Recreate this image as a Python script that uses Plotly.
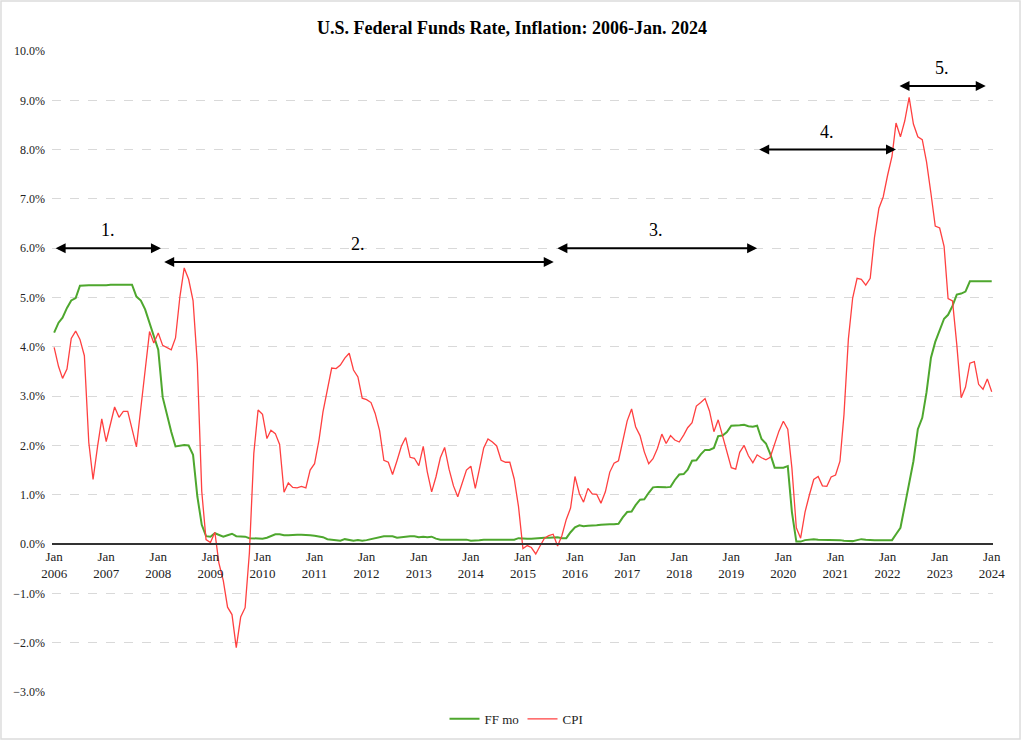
import pandas as pd
import plotly.graph_objects as go

# monthly, Jan 2006 - Jan 2024
months = pd.date_range("2006-01-01", "2024-01-01", freq="MS")

ff_rate = [
    4.29, 4.49, 4.59, 4.79, 4.94, 4.99, 5.24, 5.25, 5.25, 5.25, 5.25, 5.24,  # 2006
    5.25, 5.26, 5.26, 5.25, 5.25, 5.25, 5.26, 5.02, 4.94, 4.76, 4.49, 4.24,  # 2007
    3.94, 2.98, 2.61, 2.28, 1.98, 2.00, 2.01, 2.00, 1.81, 0.97, 0.39, 0.16,  # 2008
    0.15, 0.22, 0.18, 0.15, 0.18, 0.21, 0.16, 0.16, 0.15, 0.12, 0.12, 0.12,  # 2009
    0.11, 0.13, 0.16, 0.20, 0.20, 0.18, 0.18, 0.19, 0.19, 0.19, 0.19, 0.18,  # 2010
    0.17, 0.16, 0.14, 0.10, 0.09, 0.09, 0.07, 0.10, 0.08, 0.07, 0.08, 0.07,  # 2011
    0.08, 0.10, 0.13, 0.14, 0.16, 0.16, 0.16, 0.13, 0.14, 0.16, 0.16, 0.16,  # 2012
    0.14, 0.15, 0.14, 0.15, 0.11, 0.09, 0.09, 0.08, 0.08, 0.09, 0.08, 0.09,  # 2013
    0.07, 0.07, 0.08, 0.09, 0.09, 0.10, 0.09, 0.09, 0.09, 0.09, 0.09, 0.12,  # 2014
    0.11, 0.11, 0.11, 0.12, 0.12, 0.13, 0.13, 0.14, 0.14, 0.12, 0.12, 0.24,  # 2015
    0.34, 0.38, 0.36, 0.37, 0.37, 0.38, 0.39, 0.40, 0.40, 0.40, 0.41, 0.54,  # 2016
    0.65, 0.66, 0.79, 0.90, 0.91, 1.04, 1.15, 1.16, 1.15, 1.15, 1.16, 1.30,  # 2017
    1.41, 1.42, 1.51, 1.69, 1.70, 1.82, 1.91, 1.91, 1.95, 2.19, 2.20, 2.27,  # 2018
    2.40, 2.40, 2.41, 2.42, 2.39, 2.38, 2.40, 2.13, 2.04, 1.83, 1.55, 1.55,  # 2019
    1.55, 1.58, 0.65, 0.05, 0.05, 0.08, 0.09, 0.10, 0.09, 0.09, 0.09, 0.09,  # 2020
    0.09, 0.08, 0.07, 0.07, 0.06, 0.08, 0.10, 0.09, 0.08, 0.08, 0.08, 0.08,  # 2021
    0.08, 0.08, 0.20, 0.33, 0.77, 1.21, 1.68, 2.33, 2.56, 3.08, 3.78, 4.10,  # 2022
    4.33, 4.57, 4.65, 4.83, 5.06, 5.08, 5.12, 5.33, 5.33, 5.33, 5.33, 5.33,  # 2023
    5.33,  # Jan 2024
]

cpi = [
    3.99, 3.60, 3.36, 3.55, 4.17, 4.32, 4.15, 3.82, 2.06, 1.31, 1.97, 2.54,
    2.08, 2.42, 2.78, 2.57, 2.69, 2.69, 2.36, 1.97, 2.76, 3.54, 4.31, 4.08,
    4.28, 4.03, 3.98, 3.94, 4.18, 5.02, 5.60, 5.37, 4.94, 3.66, 1.07, 0.09,
    0.03, 0.24, -0.38, -0.74, -1.28, -1.43, -2.10, -1.48, -1.29, -0.18, 1.84, 2.72,
    2.63, 2.14, 2.31, 2.24, 2.02, 1.05, 1.24, 1.15, 1.14, 1.17, 1.14, 1.50,
    1.63, 2.11, 2.68, 3.16, 3.57, 3.56, 3.63, 3.77, 3.87, 3.53, 3.39, 2.96,
    2.93, 2.87, 2.65, 2.30, 1.70, 1.66, 1.41, 1.69, 1.99, 2.16, 1.76, 1.74,
    1.59, 1.98, 1.47, 1.06, 1.36, 1.75, 1.96, 1.52, 1.18, 0.96, 1.24, 1.50,
    1.58, 1.13, 1.51, 1.95, 2.13, 2.07, 1.99, 1.70, 1.66, 1.66, 1.32, 0.76,
    -0.09, -0.03, -0.07, -0.20, -0.04, 0.12, 0.17, 0.20, -0.04, 0.17, 0.50, 0.73,
    1.37, 1.02, 0.85, 1.13, 1.02, 1.01, 0.83, 1.06, 1.46, 1.64, 1.69, 2.07,
    2.50, 2.74, 2.38, 2.20, 1.87, 1.63, 1.73, 1.94, 2.23, 2.04, 2.20, 2.11,
    2.07, 2.21, 2.36, 2.46, 2.80, 2.87, 2.95, 2.70, 2.28, 2.52, 2.18, 1.91,
    1.55, 1.52, 1.86, 2.00, 1.79, 1.65, 1.81, 1.75, 1.71, 1.76, 2.05, 2.29,
    2.49, 2.33, 1.54, 0.33, 0.12, 0.65, 0.99, 1.31, 1.37, 1.18, 1.17, 1.36,
    1.40, 1.68, 2.62, 4.16, 4.99, 5.39, 5.37, 5.25, 5.39, 6.22, 6.81, 7.04,
    7.48, 7.87, 8.54, 8.26, 8.58, 9.06, 8.52, 8.26, 8.20, 7.75, 7.11, 6.45,
    6.41, 6.04, 4.98, 4.93, 4.05, 2.97, 3.18, 3.67, 3.70, 3.24, 3.14, 3.35,
    3.09,
]

# period arrows: label, start, end, height (%)
periods = ["1.", "2.", "3.", "4.", "5."]
period_start = ["2006-01-01", "2008-02-01", "2015-08-20", "2019-07-05", "2022-03-15"]
period_end = ["2008-01-20", "2015-08-05", "2019-07-01", "2022-03-01", "2023-11-20"]
period_level = [6.0, 5.72, 6.0, 8.0, 9.29]

tick_vals = pd.date_range("2006-01-01", "2024-01-01", freq="YS")
tick_text = ["Jan<br>%d" % d.year for d in tick_vals]

serif = "Liberation Serif, Times New Roman, serif"

fig = go.Figure()
fig.add_trace(go.Scatter(x=months, y=ff_rate, mode="lines", name="FF mo",
                         line=dict(color="#4ea72e", width=2)))
fig.add_trace(go.Scatter(x=months, y=cpi, mode="lines", name="CPI",
                         line=dict(color="#ff4040", width=1.3)))

for lab, s, e, lv in zip(periods, period_start, period_end, period_level):
    fig.add_annotation(x=e, y=lv, ax=s, ay=lv, xref="x", yref="y", axref="x", ayref="y",
                       text="", showarrow=True, arrowhead=2, startarrowhead=2,
                       arrowside="end+start", arrowsize=1, startarrowsize=1,
                       arrowwidth=2, arrowcolor="black")
    mid = pd.Timestamp(s) + (pd.Timestamp(e) - pd.Timestamp(s)) / 2
    fig.add_annotation(x=mid, y=lv, xref="x", yref="y", text=lab, showarrow=False,
                       yshift=18, font=dict(family=serif, size=18, color="black"))

# light border round the whole picture
fig.add_shape(type="rect", xref="paper", yref="paper",
              x0=-0.0542, x1=1.0287, y0=-0.0733, y1=1.078,
              line=dict(color="#dcdcdc", width=1.5), layer="below")

fig.update_layout(
    width=1024, height=742,
    margin=dict(l=52, r=31, t=51, b=50, autoexpand=False),
    paper_bgcolor="white", plot_bgcolor="white",
    title=dict(text="<b>U.S. Federal Funds Rate, Inflation: 2006-Jan. 2024</b>",
               x=0.5, xanchor="center", y=0.963, yanchor="middle",
               font=dict(family=serif, size=18, color="black")),
    font=dict(family=serif, size=12, color="#222"),
    legend=dict(orientation="h", x=0.5, xanchor="center", y=-0.042, yanchor="middle",
                entrywidth=33, font=dict(family=serif, size=13, color="#222")),
    showlegend=True,
)
fig.update_xaxes(
    type="date", range=["2005-12-17", "2024-01-10"],
    tickvals=tick_vals, ticktext=tick_text, tickangle=0,
    anchor="free", position=3 / 13,
    showline=True, linecolor="#333", linewidth=2,
    showgrid=False, ticks="", tickfont=dict(family=serif, size=13, color="#222"),
)
fig.update_yaxes(
    range=[-3, 10], dtick=1, tickformat=".1f", ticksuffix="%",
    showgrid=True, gridcolor="#d9d9d9", griddash="dash", gridwidth=1,
    zeroline=False, showline=False, ticks="", ticklabelstandoff=6,
    tickfont=dict(family=serif, size=12, color="#222"),
)

fig.write_html("out.html", config={"displayModeBar": False},
               post_script="document.body.style.margin='0';")
